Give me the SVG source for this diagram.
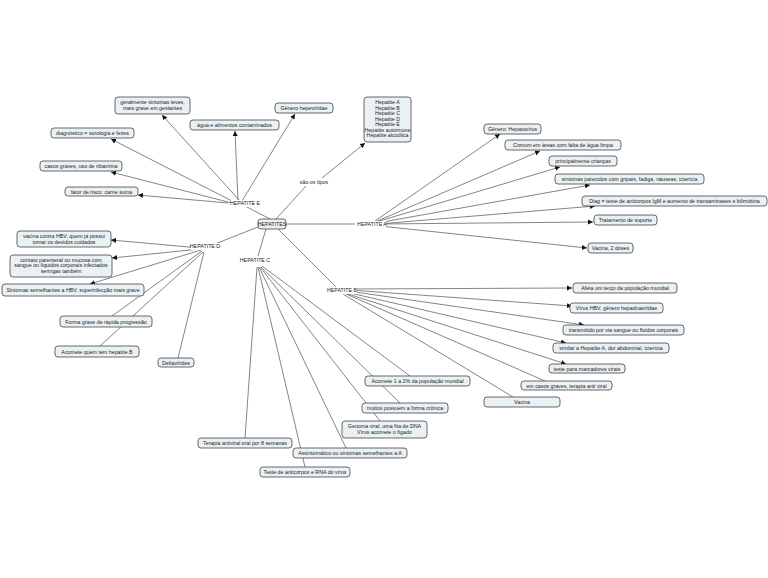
<svg xmlns="http://www.w3.org/2000/svg" width="768" height="578" viewBox="0 0 768 578">
<style>
.b{fill:#eaf1f5;stroke:#444;stroke-width:0.8}
.w{fill:#fff}
text{font-family:"Liberation Sans",Arial,sans-serif;font-size:5.3px;fill:#222;text-anchor:middle}
.l{stroke:#333;stroke-width:0.6;fill:none}
.a{marker-end:url(#m)}
</style>
<defs><marker id="m" markerWidth="6" markerHeight="6" refX="5" refY="3" orient="auto" markerUnits="userSpaceOnUse"><path d="M0,0.5L5,3L0,5.5z" fill="#111"/></marker></defs>
<rect width="768" height="578" fill="#fff"/>
<g id="connectors">
<line class="l" x1="270" y1="219" x2="245" y2="206"/>
<line class="l" x1="276" y1="219" x2="306" y2="186"/>
<line class="l a" x1="322" y1="178" x2="365" y2="143"/>
<line class="l" x1="286" y1="224" x2="355" y2="224"/>
<line class="l" x1="258" y1="227" x2="215" y2="244"/>
<line class="l" x1="266" y1="229" x2="258" y2="256"/>
<line class="l" x1="278" y1="229" x2="336" y2="287"/>
<line class="l a" x1="240" y1="201" x2="162" y2="115"/>
<line class="l a" x1="242" y1="201" x2="295" y2="114"/>
<line class="l a" x1="238" y1="201" x2="235" y2="131"/>
<line class="l a" x1="234" y1="202" x2="111" y2="139"/>
<line class="l a" x1="232" y1="203" x2="111" y2="172"/>
<line class="l a" x1="228" y1="203" x2="138" y2="195"/>
<line class="l a" x1="375" y1="221" x2="500" y2="134"/>
<line class="l a" x1="375" y1="222" x2="540" y2="151"/>
<line class="l a" x1="376" y1="222" x2="560" y2="167"/>
<line class="l a" x1="377" y1="223" x2="590" y2="185"/>
<line class="l a" x1="378" y1="224" x2="595" y2="206"/>
<line class="l a" x1="380" y1="224" x2="593" y2="222"/>
<line class="l a" x1="380" y1="226" x2="587" y2="248"/>
<line class="l a" x1="350" y1="289" x2="572" y2="288"/>
<line class="l a" x1="350" y1="290" x2="572" y2="306"/>
<line class="l a" x1="348" y1="291" x2="584" y2="325"/>
<line class="l a" x1="346" y1="292" x2="566" y2="343"/>
<line class="l a" x1="345" y1="293" x2="566" y2="364"/>
<line class="l" x1="344" y1="293" x2="545" y2="381"/>
<line class="l" x1="343" y1="294" x2="513" y2="397"/>
<line class="l a" x1="200" y1="248" x2="111" y2="240"/>
<line class="l a" x1="200" y1="249" x2="112" y2="258"/>
<line class="l a" x1="201" y1="250" x2="90" y2="284"/>
<line class="l" x1="202" y1="251" x2="112" y2="316"/>
<line class="l" x1="203" y1="252" x2="100" y2="346"/>
<line class="l" x1="204" y1="252" x2="178" y2="358"/>
<line class="l" x1="262" y1="266" x2="410" y2="376"/>
<line class="l" x1="261" y1="267" x2="400" y2="403"/>
<line class="l" x1="260" y1="267" x2="380" y2="421"/>
<line class="l" x1="259" y1="267" x2="346" y2="448"/>
<line class="l" x1="258" y1="267" x2="305" y2="467"/>
<line class="l" x1="257" y1="267" x2="245" y2="438"/>
</g>
<g id="hepatites"><rect class="b" x="258" y="219" width="28" height="10" rx="3"/><text x="272" y="226">HEPATITES</text></g>
<g id="tipos"><rect class="b" x="364" y="97" width="47" height="45" rx="3"/>
<text x="387.5" y="104">Hepatite A</text><text x="387.5" y="109.5">Hepatite B</text><text x="387.5" y="115">Hepatite C</text><text x="387.5" y="120.5">Hepatite D</text><text x="387.5" y="126">Hepatite E</text><text x="387.5" y="131.5">Hepatite autoimune</text><text x="387.5" y="137">Hepatite alcoólica</text></g>
<g id="lbl-tipos"><rect class="w" x="302" y="179" width="24" height="7"/><text x="314" y="184">são os tipos</text></g>
<g id="he"><rect class="w" x="231" y="200" width="29" height="7"/><text x="245" y="205">HEPATITE E</text></g>
<g id="ha"><rect class="w" x="357" y="221" width="29" height="7"/><text x="372" y="226">HEPATITE A</text></g>
<g id="hd"><rect class="w" x="191" y="243" width="29" height="7"/><text x="205" y="248">HEPATITE D</text></g>
<g id="hc"><rect class="w" x="241" y="257" width="29" height="7"/><text x="255" y="262">HEPATITE C</text></g>
<g id="hb"><rect class="w" x="328" y="287" width="29" height="7"/><text x="342" y="292">HEPATITE B</text></g>
<g id="e1"><rect class="b" x="115" y="97" width="75" height="17" rx="3"/><text x="152.5" y="104">geralmente sintomas leves,</text><text x="152.5" y="110">mais grave em gestantes</text></g>
<g id="e2"><rect class="b" x="275" y="103" width="58" height="10" rx="3"/><text x="304" y="110">Gênero hepevirídae</text></g>
<g id="e3"><rect class="b" x="190" y="120" width="89" height="10" rx="3"/><text x="234.5" y="127">água e alimentos contaminados</text></g>
<g id="e4"><rect class="b" x="51" y="128" width="83" height="10" rx="3"/><text x="92.5" y="135">diagnóstico = sorologia e fezes</text></g>
<g id="e5"><rect class="b" x="40" y="161" width="82" height="10" rx="3"/><text x="81" y="168">casos graves, uso de ribavirina</text></g>
<g id="e6"><rect class="b" x="65" y="187" width="73" height="9" rx="3"/><text x="101.5" y="193.5">fator de risco: carne suína</text></g>
<g id="a1"><rect class="b" x="484" y="124" width="57" height="10" rx="3"/><text x="512.5" y="131">Gênero: Hepatovírus</text></g>
<g id="a2"><rect class="b" x="505" y="140" width="116" height="10" rx="3"/><text x="563" y="147">Comum em áreas com falta de água limpa</text></g>
<g id="a3"><rect class="b" x="549" y="156" width="68" height="10" rx="3"/><text x="583" y="163">principalmente crianças</text></g>
<g id="a4"><rect class="b" x="555" y="174" width="149" height="10" rx="3"/><text x="629.5" y="181">sintomas parecidos com gripais, fadiga, náuseas, icterícia</text></g>
<g id="a5"><rect class="b" x="582" y="196" width="185" height="10" rx="3"/><text x="674.5" y="203">Diag = teste de anticorpos IgM e aumento de transaminases e bilirrubina</text></g>
<g id="a6"><rect class="b" x="594" y="215" width="63" height="10" rx="3"/><text x="625.5" y="222">Tratamento de suporte</text></g>
<g id="a7"><rect class="b" x="588" y="243" width="45" height="10" rx="3"/><text x="610.5" y="250">Vacina, 2 doses</text></g>
<g id="b1"><rect class="b" x="573" y="283" width="104" height="10" rx="3"/><text x="625" y="290">Afeta um terço da população mundial</text></g>
<g id="b2"><rect class="b" x="570" y="303" width="93" height="10" rx="3"/><text x="616.5" y="310">Vírus HBV, gênero hepadnaviridae</text></g>
<g id="b3"><rect class="b" x="563" y="325" width="121" height="10" rx="3"/><text x="623.5" y="332">transmitido por via  sangue ou fluidos corporais</text></g>
<g id="b4"><rect class="b" x="553" y="343" width="116" height="10" rx="3"/><text x="611" y="350">similar a Hepatite A, dor abdominal, icterícia</text></g>
<g id="b5"><rect class="b" x="549" y="364" width="76" height="9" rx="3"/><text x="587" y="370.5">teste para marcadores virais</text></g>
<g id="b6"><rect class="b" x="521" y="381" width="91" height="9" rx="3"/><text x="566.5" y="387.5">em casos graves, terapia anti viral</text></g>
<g id="b7"><rect class="b" x="484" y="397" width="76" height="10" rx="3"/><text x="522" y="404">Vacina</text></g>
<g id="d1"><rect class="b" x="17" y="231" width="94" height="16" rx="3"/><text x="64" y="238">vacina contra HBV, quem já possui</text><text x="64" y="244">tomar os devidos cuidados</text></g>
<g id="d2"><rect class="b" x="10" y="255" width="102" height="22" rx="3"/><text x="61" y="261.5">contato parenteral ou mucosa com</text><text x="61" y="267">sangue ou líquidos corporais infectados</text><text x="61" y="272.5">seringas também</text></g>
<g id="d3"><rect class="b" x="2" y="284" width="142" height="12" rx="3"/><text x="73" y="292">Sintomas semelhantes a HBV, superinfecção mais grave</text></g>
<g id="d4"><rect class="b" x="60" y="316" width="92" height="11" rx="3"/><text x="106" y="323.5">Forma grave de rápida progressão</text></g>
<g id="d5"><rect class="b" x="55" y="346" width="84" height="11" rx="3"/><text x="97" y="353.5">Acomete quem tem hepatite B</text></g>
<g id="d6"><rect class="b" x="158" y="358" width="36" height="9" rx="3"/><text x="176" y="364.5">Deltavírides</text></g>
<g id="c1"><rect class="b" x="365" y="376" width="105" height="10" rx="3"/><text x="417.5" y="383">Acomete 1 a 2% da população mundial</text></g>
<g id="c2"><rect class="b" x="362" y="403" width="86" height="10" rx="3"/><text x="405" y="410">muitos possuem a forma crônica</text></g>
<g id="c3"><rect class="b" x="342" y="421" width="85" height="17" rx="3"/><text x="384.5" y="428">Genoma viral, uma fita de DNA</text><text x="384.5" y="434">Vírus acomete o fígado</text></g>
<g id="c4"><rect class="b" x="198" y="438" width="94" height="10" rx="3"/><text x="245" y="445">Terapia antiviral oral por 8 semanas</text></g>
<g id="c5"><rect class="b" x="293" y="448" width="114" height="10" rx="3"/><text x="350" y="455">Assintomático ou sintomas semelhantes a A</text></g>
<g id="c6"><rect class="b" x="260" y="467" width="90" height="10" rx="3"/><text x="305" y="474">Teste de anticorpos e RNA do vírus</text></g>
</svg>
